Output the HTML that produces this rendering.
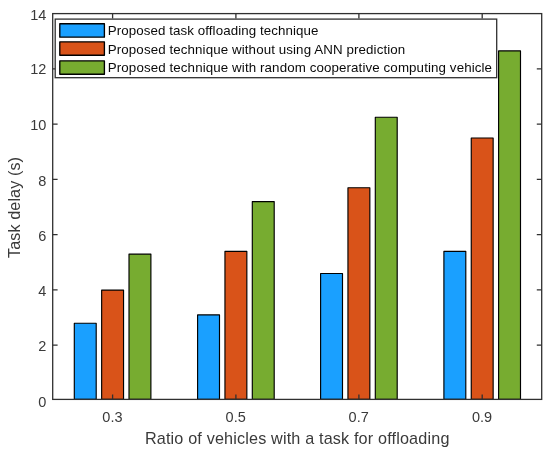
<!DOCTYPE html>
<html><head><meta charset="utf-8"><title>Task delay chart</title>
<style>
html,body{margin:0;padding:0;background:#fff;}
body{width:550px;height:460px;overflow:hidden;}
svg{display:block;filter:blur(0.4px);}
text{font-family:"Liberation Sans",Arial,Helvetica,sans-serif;fill:#3a3a3a;}
.t{font-size:14.5px;}
.a{font-size:16.2px;}
.l{font-size:13.33px;fill:#0a0a0a;}
</style></head><body>
<svg width="550" height="460" viewBox="0 0 550 460">
<rect width="550" height="460" fill="#fff"/>
<rect x="74.30" y="323.23" width="21.9" height="76.17" fill="#1AA0FF" stroke="#000" stroke-width="1.15" stroke-linejoin="round"/>
<rect x="197.60" y="314.93" width="21.9" height="84.47" fill="#1AA0FF" stroke="#000" stroke-width="1.15" stroke-linejoin="round"/>
<rect x="320.60" y="273.46" width="21.9" height="125.94" fill="#1AA0FF" stroke="#000" stroke-width="1.15" stroke-linejoin="round"/>
<rect x="443.90" y="251.34" width="21.9" height="148.06" fill="#1AA0FF" stroke="#000" stroke-width="1.15" stroke-linejoin="round"/>
<rect x="101.65" y="290.05" width="21.9" height="109.35" fill="#D95319" stroke="#000" stroke-width="1.15" stroke-linejoin="round"/>
<rect x="224.95" y="251.34" width="21.9" height="148.06" fill="#D95319" stroke="#000" stroke-width="1.15" stroke-linejoin="round"/>
<rect x="347.95" y="187.74" width="21.9" height="211.66" fill="#D95319" stroke="#000" stroke-width="1.15" stroke-linejoin="round"/>
<rect x="471.25" y="137.97" width="21.9" height="261.43" fill="#D95319" stroke="#000" stroke-width="1.15" stroke-linejoin="round"/>
<rect x="129.00" y="254.10" width="21.9" height="145.29" fill="#77AC30" stroke="#000" stroke-width="1.15" stroke-linejoin="round"/>
<rect x="252.30" y="201.57" width="21.9" height="197.83" fill="#77AC30" stroke="#000" stroke-width="1.15" stroke-linejoin="round"/>
<rect x="375.30" y="117.24" width="21.9" height="282.16" fill="#77AC30" stroke="#000" stroke-width="1.15" stroke-linejoin="round"/>
<rect x="498.60" y="50.88" width="21.9" height="348.52" fill="#77AC30" stroke="#000" stroke-width="1.15" stroke-linejoin="round"/>
<rect x="52.7" y="13.6" width="489.00000000000006" height="385.80" fill="none" stroke="#303030" stroke-width="1.3"/>
<path d="M52.7 345.22h4.9M541.7 345.22h-4.9" stroke="#303030" stroke-width="1.3" fill="none"/>
<path d="M52.7 289.94h4.9M541.7 289.94h-4.9" stroke="#303030" stroke-width="1.3" fill="none"/>
<path d="M52.7 234.66h4.9M541.7 234.66h-4.9" stroke="#303030" stroke-width="1.3" fill="none"/>
<path d="M52.7 179.38h4.9M541.7 179.38h-4.9" stroke="#303030" stroke-width="1.3" fill="none"/>
<path d="M52.7 124.10h4.9M541.7 124.10h-4.9" stroke="#303030" stroke-width="1.3" fill="none"/>
<path d="M52.7 68.82h4.9M541.7 68.82h-4.9" stroke="#303030" stroke-width="1.3" fill="none"/>
<path d="M112.6 399.4v-4.9M112.6 13.6v4.9" stroke="#303030" stroke-width="1.3" fill="none"/>
<path d="M235.9 399.4v-4.9M235.9 13.6v4.9" stroke="#303030" stroke-width="1.3" fill="none"/>
<path d="M358.9 399.4v-4.9M358.9 13.6v4.9" stroke="#303030" stroke-width="1.3" fill="none"/>
<path d="M482.2 399.4v-4.9M482.2 13.6v4.9" stroke="#303030" stroke-width="1.3" fill="none"/>
<text x="46.3" y="406.60" text-anchor="end" class="t">0</text>
<text x="46.3" y="351.22" text-anchor="end" class="t">2</text>
<text x="46.3" y="295.69" text-anchor="end" class="t">4</text>
<text x="46.3" y="240.96" text-anchor="end" class="t">6</text>
<text x="46.3" y="185.58" text-anchor="end" class="t">8</text>
<text x="46.3" y="129.80" text-anchor="end" class="t">10</text>
<text x="46.3" y="74.22" text-anchor="end" class="t">12</text>
<text x="46.3" y="19.84" text-anchor="end" class="t">14</text>
<text x="112.40" y="421.7" text-anchor="middle" class="t">0.3</text>
<text x="235.70" y="421.7" text-anchor="middle" class="t">0.5</text>
<text x="358.70" y="421.7" text-anchor="middle" class="t">0.7</text>
<text x="482.00" y="421.7" text-anchor="middle" class="t">0.9</text>
<text x="144.9" y="444" textLength="304.5" lengthAdjust="spacing" class="a">Ratio of vehicles with a task for offloading</text>
<text transform="translate(19.9,258) rotate(-90)" textLength="101" lengthAdjust="spacing" class="a">Task delay (s)</text>
<rect x="55.2" y="19.1" width="441.5" height="58.6" fill="#fff" stroke="#303030" stroke-width="1.3"/>
<rect x="59.8" y="23.75" width="44.6" height="13.4" fill="#1AA0FF" stroke="#000" stroke-width="1.35" stroke-linejoin="round"/>
<text x="107.8" y="35.3" textLength="210.6" lengthAdjust="spacing" class="l">Proposed task offloading technique</text>
<rect x="59.8" y="41.85" width="44.6" height="13.4" fill="#D95319" stroke="#000" stroke-width="1.35" stroke-linejoin="round"/>
<text x="107.8" y="53.7" textLength="297.4" lengthAdjust="spacing" class="l">Proposed technique without using ANN prediction</text>
<rect x="59.8" y="60.85" width="44.6" height="13.4" fill="#77AC30" stroke="#000" stroke-width="1.35" stroke-linejoin="round"/>
<text x="107.8" y="72.3" textLength="384.2" lengthAdjust="spacing" class="l">Proposed technique with random cooperative computing vehicle</text>
</svg>
</body></html>
